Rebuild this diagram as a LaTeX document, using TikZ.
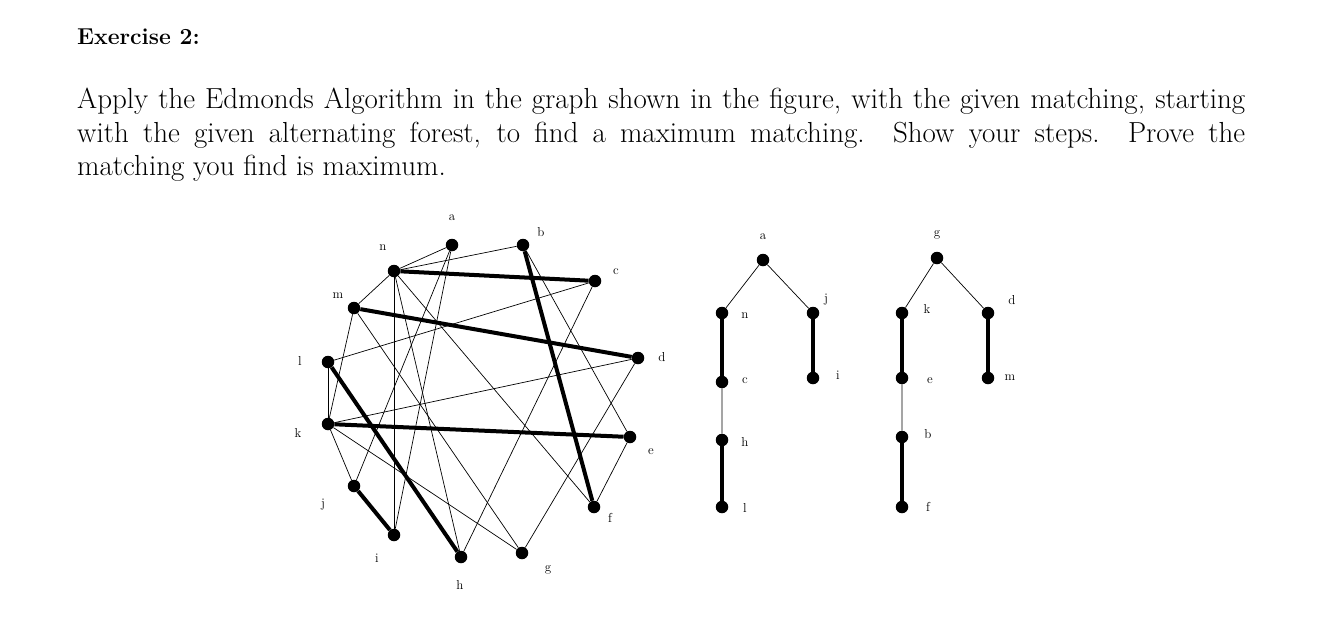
\documentclass[tikz,border=0pt]{standalone}
\begin{document}
\begin{tikzpicture}[x=1pt,y=-1pt,
  v/.style={circle,fill=black,inner sep=0pt,minimum size=12.5pt},
  lab/.style={font=\fontsize{13}{13}\selectfont},
  th/.style={line width=0.7pt},
  tk/.style={line width=4pt}]
\useasboundingbox (0,0) rectangle (1338,630);
\node[anchor=west,inner sep=0pt,font=\fontsize{23}{26}\selectfont\bfseries] (title) at (77,37) {Exercise 2:};
\node[anchor=north west,text width=1168pt,align=justify,inner sep=0pt,font=\fontsize{29}{33.5}\selectfont] (para) at (77,88)
{Apply the Edmonds Algorithm in the graph shown in the figure, with the given matching, starting\linebreak with the given alternating forest, to find a maximum matching.\ \ Show your steps.\ \ Prove the\linebreak matching you find is maximum.};
% graph
\foreach \n/\x/\y/\lx/\ly in {a/452/245/452/218,b/523/245/541/232,n/394/271/383/248,c/595/281/616/272,m/354/308/338/296,d/638/358/662/357,l/328/362/300/361,k/328/424/298/433,e/630/437/651/452,j/354/486/323/505,f/594/507/610/518,i/394/535/377/558,h/461/557/460/585,g/522/553/548/570}{
  \node[v] (\n) at (\x,\y) {};
  \node[lab] (L\n) at (\lx,\ly) {\n};
}
\foreach \u/\w in {a/n,b/n,n/m,n/i,n/h,n/f,m/k,m/g,l/k,l/c,k/d,k/j,k/g,j/a,i/a,h/c,g/d,b/e,e/f}
  \draw[th] (\u) -- (\w);
\foreach \u/\w in {n/c,b/f,m/d,l/h,k/e,j/i}
  \draw[tk] (\u) -- (\w);
% tree 1
\foreach \n/\x/\y/\lx/\ly in {a/763/260/763/237,n/722/313/745/316,c/722/382/745/381,h/722/440/745/442,l/722/507/745/508,j/813/313/826/300,i/813/378/838/375}{
  \node[v] (T\n) at (\x,\y) {};
  \node[lab] (TL\n) at (\lx,\ly) {\n};
}
\draw[th] (Ta)--(Tn) (Tc)--(Th) (Ta)--(Tj);
\draw[tk] (Tn)--(Tc) (Th)--(Tl) (Tj)--(Ti);
% tree 2
\foreach \n/\x/\y/\lx/\ly in {g/937/258/937/235,k/902/313/927/309,e/902/378/930/381,b/902/437/928/434,f/902/507/928/507,d/988/313/1012/300,m/988/378/1010/378}{
  \node[v] (S\n) at (\x,\y) {};
  \node[lab] (SL\n) at (\lx,\ly) {\n};
}
\draw[th] (Sg)--(Sk) (Se)--(Sb) (Sg)--(Sd);
\draw[tk] (Sk)--(Se) (Sb)--(Sf) (Sd)--(Sm);
\end{tikzpicture}
\end{document}
